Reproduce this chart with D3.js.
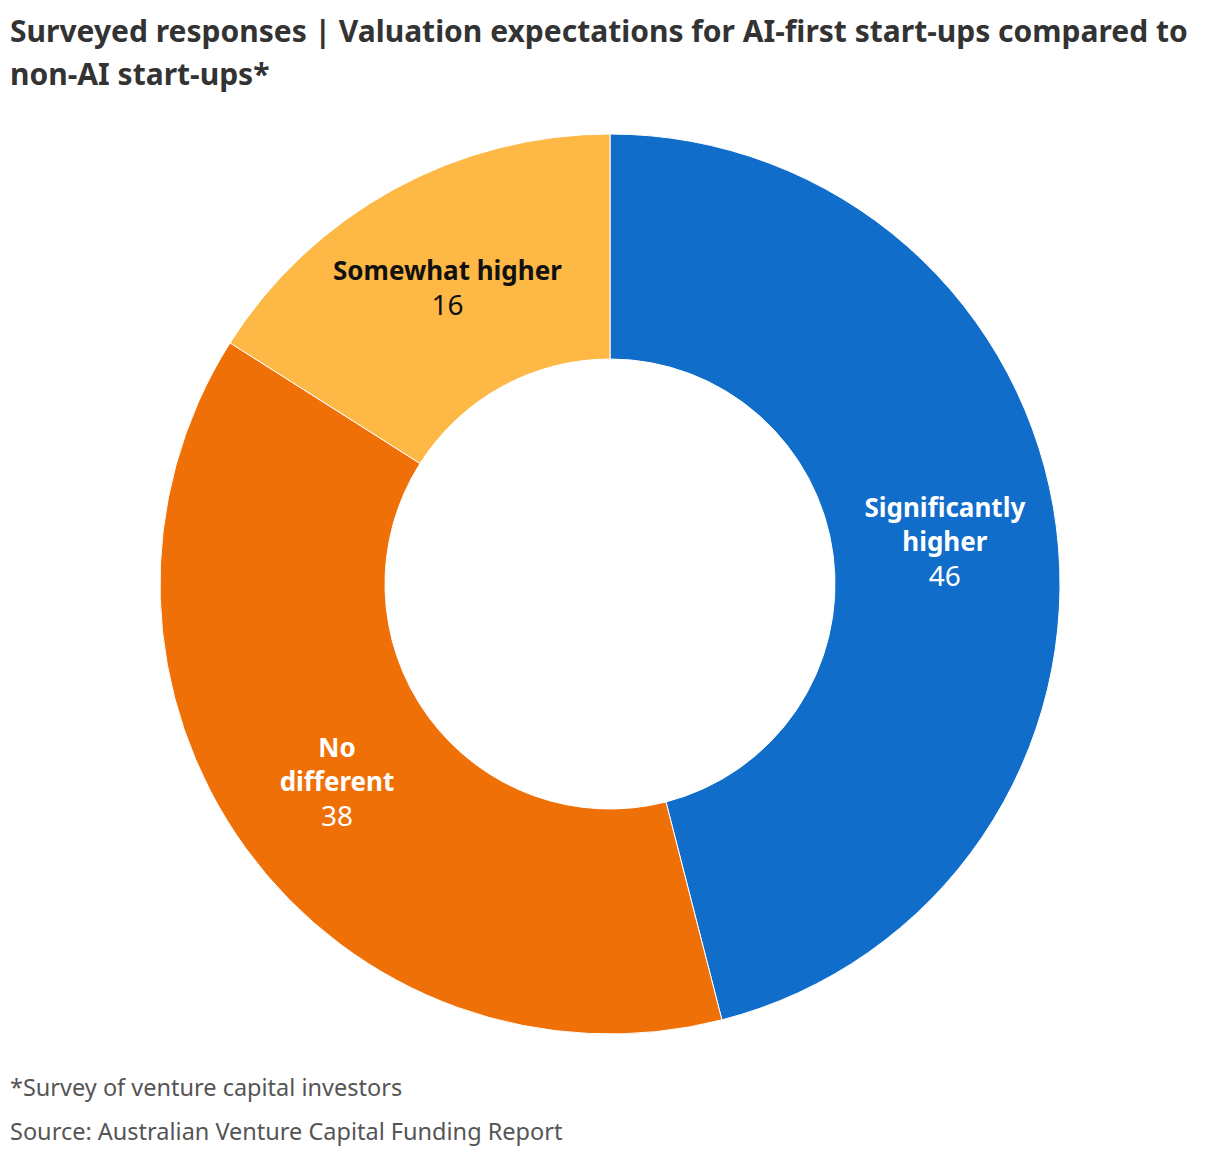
<!DOCTYPE html>
<html>
<head>
<meta charset="utf-8">
<script src="https://cdn.jsdelivr.net/npm/d3@7"></script>
<style>
  body { margin: 0; background: #fff; }
  svg { display: block; font-family: 'Noto Sans', sans-serif; }
  .title { font-weight: 700; fill: #333; font-size: 30px; }
  .note { fill: #555; font-size: 23.5px; }
  .lbl { font-size: 26px; }
</style>
</head>
<body>
<svg width="1220" height="1158"></svg>
<script>
const categories = ['Significantly higher', 'No different', 'Somewhat higher'];
const labelLines = [['Significantly', 'higher'], ['No', 'different'], ['Somewhat higher']];
const values = [46, 38, 16];
const colors = ['#106dc9', '#f07008', '#feb845'];
const textColors = ['#fff', '#fff', '#111'];

const svg = d3.select('svg');

const cx = 610, cy = 584;
const outer = 450, inner = 225;

const data = categories.map((c, i) => ({ name: c, value: values[i], lines: labelLines[i], color: colors[i], tc: textColors[i] }));

const pie = d3.pie().sort(null).value(d => d.value);
const arc = d3.arc().innerRadius(inner).outerRadius(outer);

const chart = svg.append('g')
  .attr('transform', `translate(${cx}, ${cy})`);

const slices = chart.selectAll('g.slice')
  .data(pie(data))
  .enter()
  .append('g')
  .attr('class', 'slice');

slices.append('path')
  .attr('d', arc)
  .attr('fill', d => d.data.color)
  .attr('stroke', '#fff')
  .attr('stroke-width', 1);

const lineH = 34;
slices.each(function(d) {
  const [x, y] = arc.centroid(d);
  const lines = d.data.lines.map(t => ({ t, bold: true })).concat([{ t: String(d.data.value), bold: false }]);
  const top = y - (lines.length - 1) * lineH / 2;
  const txt = d3.select(this).append('text')
    .attr('class', 'lbl')
    .attr('text-anchor', 'middle')
    .attr('fill', d.data.tc);
  lines.forEach((l, i) => {
    txt.append('tspan')
      .attr('x', x)
      .attr('y', top + i * lineH)
      .attr('dy', '0.35em')
      .attr('font-weight', l.bold ? 700 : 400)
      .attr('font-size', l.bold ? null : '28px')
      .text(l.t);
  });
});

svg.append('text')
  .attr('class', 'title')
  .attr('x', 10)
  .attr('y', 42)
  .text('Surveyed responses | Valuation expectations for AI-first start-ups compared to');

svg.append('text')
  .attr('class', 'title')
  .attr('x', 10)
  .attr('y', 85)
  .text('non-AI start-ups*');

svg.append('text')
  .attr('class', 'note')
  .attr('x', 10)
  .attr('y', 1096)
  .text('*Survey of venture capital investors');

svg.append('text')
  .attr('class', 'note')
  .attr('x', 10)
  .attr('y', 1140)
  .text('Source: Australian Venture Capital Funding Report');
</script>
</body>
</html>
